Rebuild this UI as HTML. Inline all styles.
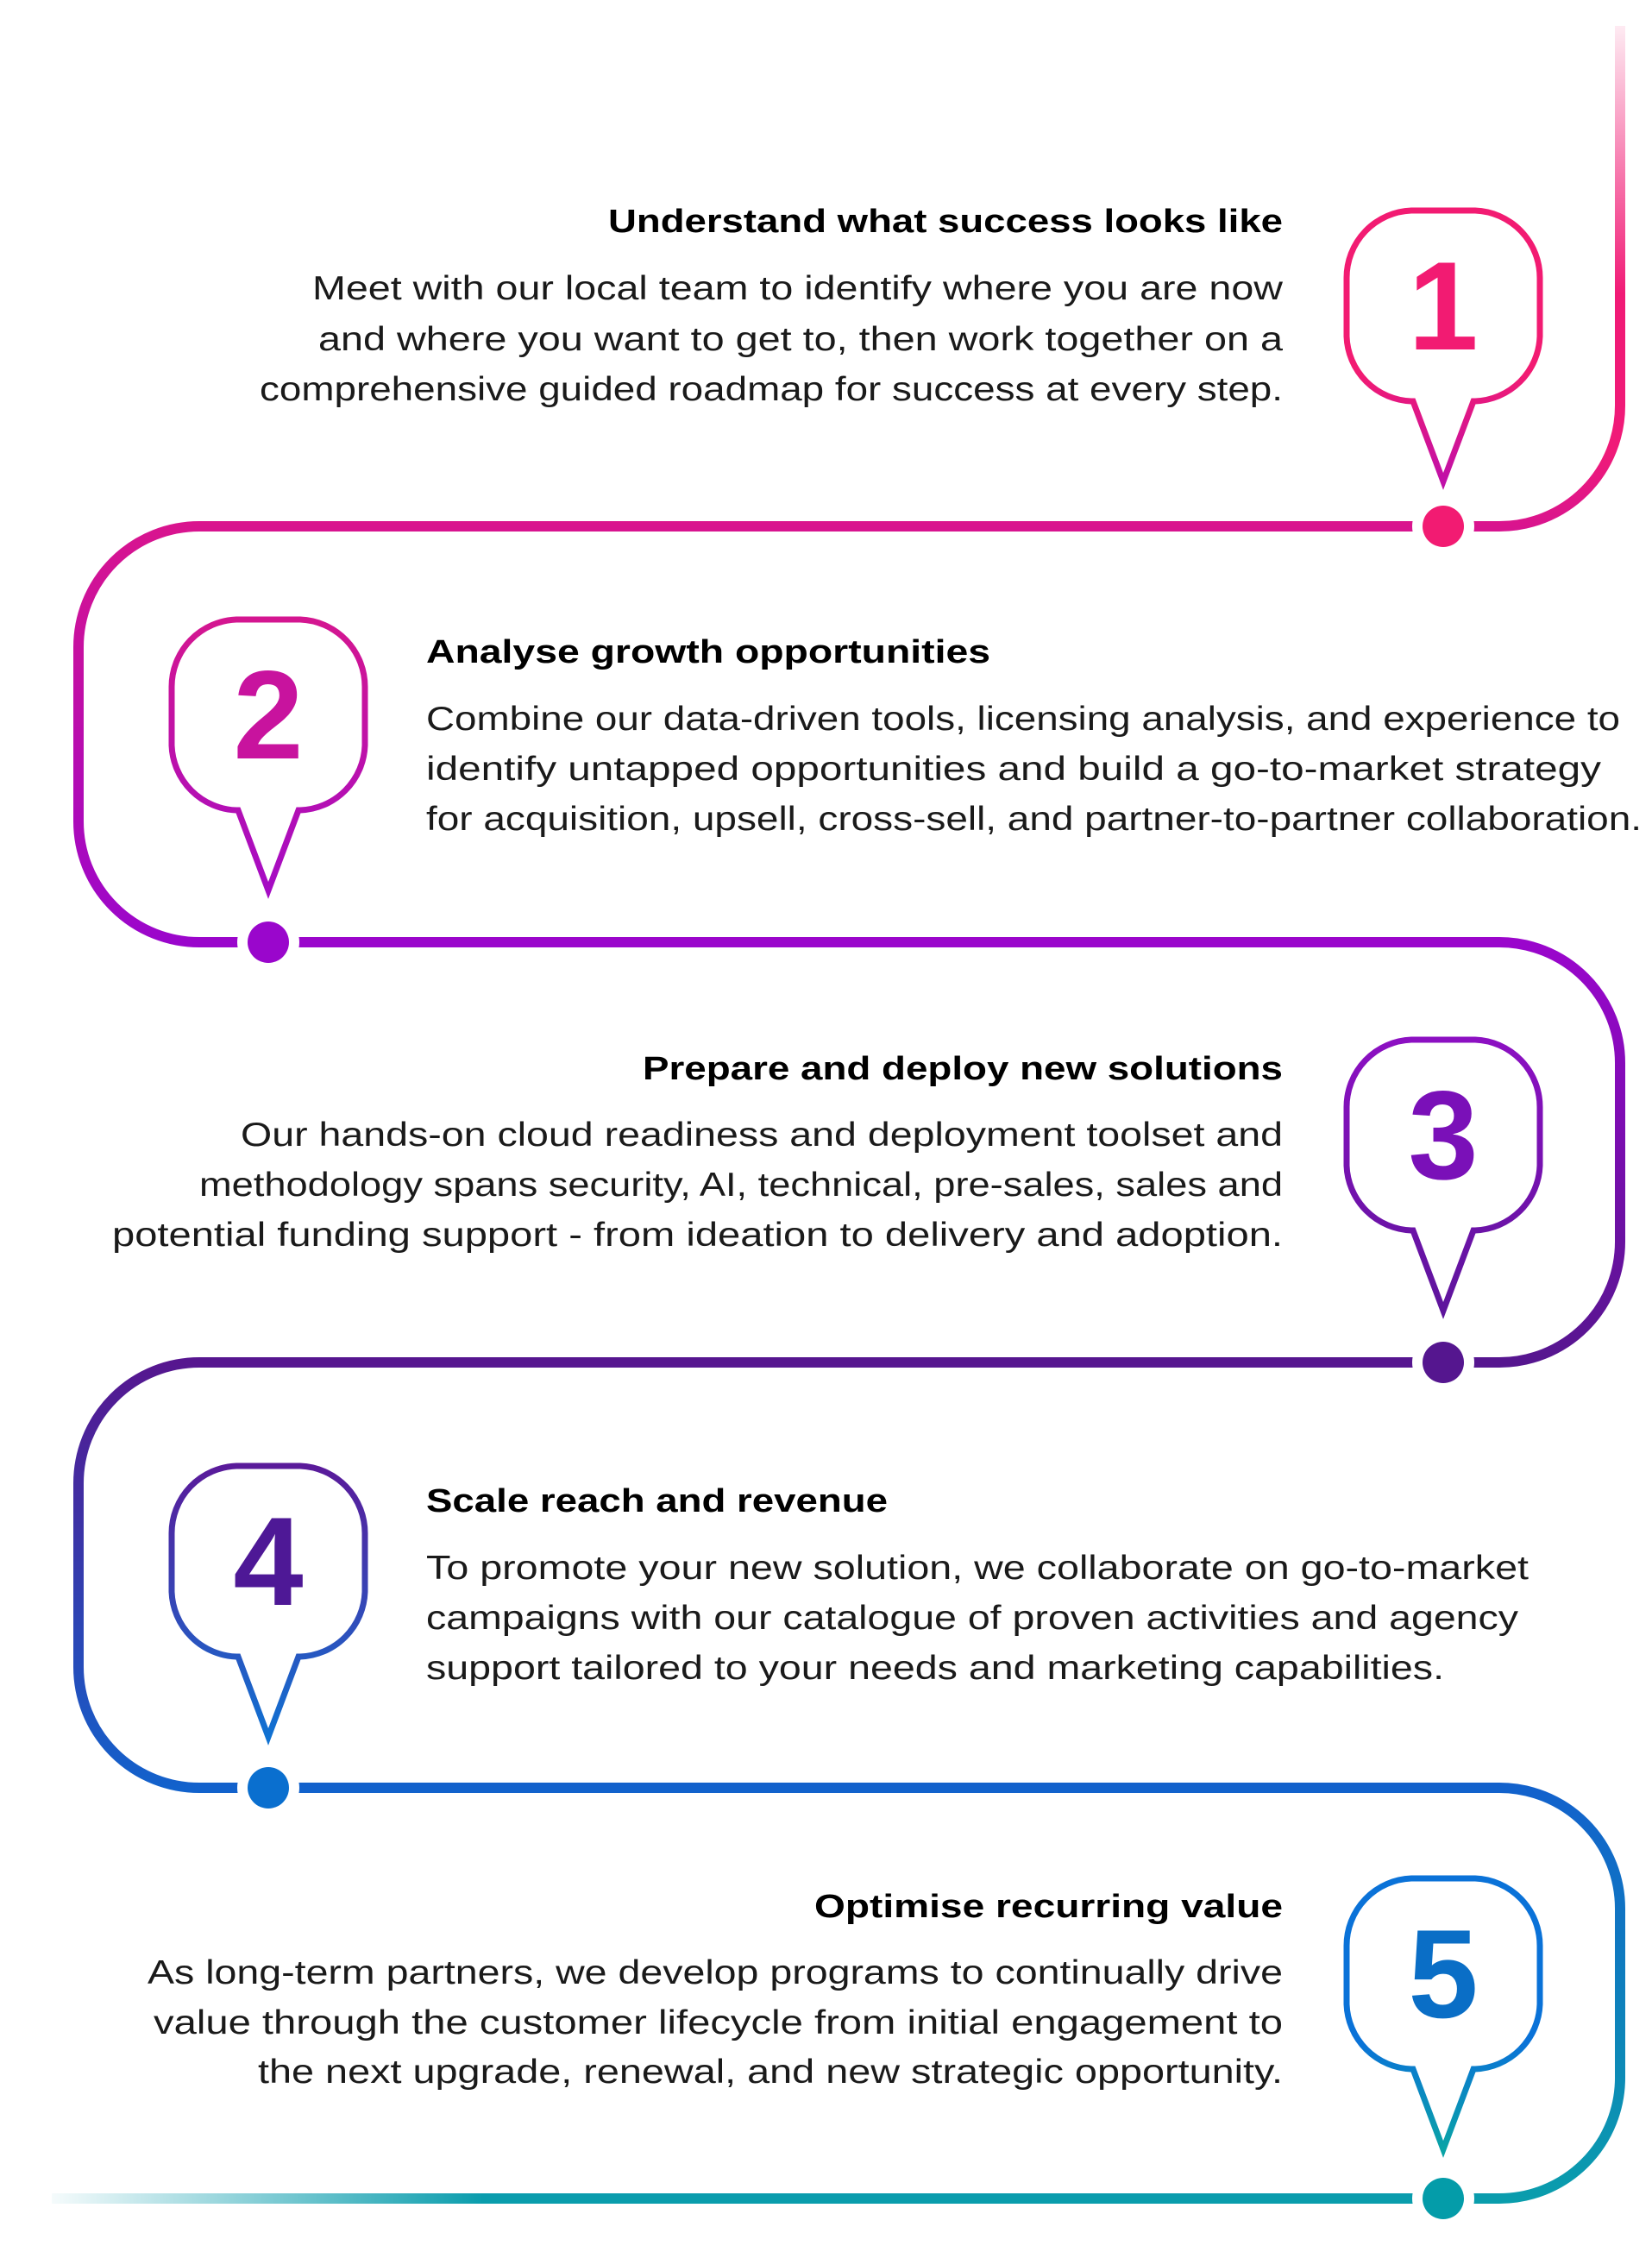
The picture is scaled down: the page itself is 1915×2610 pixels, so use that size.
<!DOCTYPE html>
<html><head><meta charset="utf-8"><style>
html,body{margin:0;padding:0;background:#fff;}
svg{display:block;}
.t{font-family:"Liberation Sans",Arial,sans-serif;font-weight:bold;font-size:38px;fill:#000;}
.b{font-family:"Liberation Sans",Arial,sans-serif;font-size:39px;fill:#1a1a1a;}
.n{font-family:"Liberation Sans",Arial,sans-serif;font-weight:bold;font-size:146px;text-anchor:middle;}
</style></head><body>
<svg width="1915" height="2610" viewBox="0 0 1915 2610" xmlns="http://www.w3.org/2000/svg">
<defs>
<linearGradient id="lg" gradientUnits="userSpaceOnUse" x1="0" y1="0" x2="0" y2="2610">
<stop offset="0" stop-color="#f21b72"/>
<stop offset="0.2" stop-color="#f01a78"/>
<stop offset="0.235" stop-color="#d8148f"/>
<stop offset="0.42" stop-color="#9a06cc"/>
<stop offset="0.605" stop-color="#56168f"/>
<stop offset="0.795" stop-color="#1262cc"/>
<stop offset="0.98" stop-color="#0a9eac"/>
</linearGradient>
<linearGradient id="ft" x1="0" y1="0" x2="0" y2="1"><stop offset="0" stop-color="#fff" stop-opacity="1"/><stop offset="1" stop-color="#fff" stop-opacity="0"/></linearGradient>
<linearGradient id="fl" x1="0" y1="0" x2="1" y2="0"><stop offset="0" stop-color="#fff" stop-opacity="1"/><stop offset="1" stop-color="#fff" stop-opacity="0"/></linearGradient>
<linearGradient id="g1" x1="0" y1="0" x2="0" y2="1"><stop offset="0.6" stop-color="#f21b72"/><stop offset="1" stop-color="#c010a8"/></linearGradient>
<linearGradient id="g2" x1="0" y1="0" x2="0" y2="1"><stop offset="0" stop-color="#d41690"/><stop offset="1" stop-color="#a50cc4"/></linearGradient>
<linearGradient id="g3" x1="0" y1="0" x2="0" y2="1"><stop offset="0" stop-color="#8c10c2"/><stop offset="1" stop-color="#5e149c"/></linearGradient>
<linearGradient id="g4" x1="0" y1="0" x2="0" y2="1"><stop offset="0" stop-color="#5a1a9a"/><stop offset="1" stop-color="#1072d2"/></linearGradient>
<linearGradient id="g5" x1="0" y1="0" x2="0" y2="1"><stop offset="0.6" stop-color="#0a72d8"/><stop offset="1" stop-color="#0aa3a6"/></linearGradient>
</defs>

<path d="M1878 30 V470 A140 140 0 0 1 1738 610 H231 A140 140 0 0 0 91 750 V952 A140 140 0 0 0 231 1092 H1738 A140 140 0 0 1 1878 1232 V1439 A140 140 0 0 1 1738 1579 H231 A140 140 0 0 0 91 1719 V1932 A140 140 0 0 0 231 2072 H1738 A140 140 0 0 1 1878 2212 V2408 A140 140 0 0 1 1738 2548 H60" fill="none" stroke="url(#lg)" stroke-width="12"/>
<rect x="1860" y="0" width="40" height="340" fill="url(#ft)"/>
<rect x="40" y="2530" width="520" height="40" fill="url(#fl)"/>

<!-- dots -->
<g>
<circle cx="1673" cy="610" r="36" fill="#fff"/><circle cx="1673" cy="610" r="24" fill="#f21b72"/>
<circle cx="311" cy="1092" r="36" fill="#fff"/><circle cx="311" cy="1092" r="24" fill="#9a06cc"/>
<circle cx="1673" cy="1579" r="36" fill="#fff"/><circle cx="1673" cy="1579" r="24" fill="#55168f"/>
<circle cx="311" cy="2072" r="36" fill="#fff"/><circle cx="311" cy="2072" r="24" fill="#0a6fcf"/>
<circle cx="1673" cy="2548" r="36" fill="#fff"/><circle cx="1673" cy="2548" r="24" fill="#049ca9"/>
</g>

<!-- bubbles: cx, top T; body bottom T+221, tip T+314 -->
<path d="M1708 465 L1710 465 A78 78 0 0 0 1785 390 V322 A78 78 0 0 0 1710 244 H1636 A78 78 0 0 0 1561 322 V390 A78 78 0 0 0 1636 465 L1638 465 L1673 558 Z" fill="none" stroke="url(#g1)" stroke-width="7"/>
<text class="n" x="1673" y="405" fill="#f21b72">1</text>

<path d="M346 939 L348 939 A78 78 0 0 0 423 864 V796 A78 78 0 0 0 348 718 H274 A78 78 0 0 0 199 796 V864 A78 78 0 0 0 274 939 L276 939 L311 1032 Z" fill="none" stroke="url(#g2)" stroke-width="7"/>
<text class="n" x="311" y="879" fill="#c8139e">2</text>

<path d="M1708 1426 L1710 1426 A78 78 0 0 0 1785 1351 V1283 A78 78 0 0 0 1710 1205 H1636 A78 78 0 0 0 1561 1283 V1351 A78 78 0 0 0 1636 1426 L1638 1426 L1673 1519 Z" fill="none" stroke="url(#g3)" stroke-width="7"/>
<text class="n" x="1673" y="1366" fill="#7a10b8">3</text>

<path d="M346 1920 L348 1920 A78 78 0 0 0 423 1845 V1777 A78 78 0 0 0 348 1699 H274 A78 78 0 0 0 199 1777 V1845 A78 78 0 0 0 274 1920 L276 1920 L311 2013 Z" fill="none" stroke="url(#g4)" stroke-width="7"/>
<text class="n" x="311" y="1860" fill="#4e1896">4</text>

<path d="M1708 2398 L1710 2398 A78 78 0 0 0 1785 2323 V2255 A78 78 0 0 0 1710 2177 H1636 A78 78 0 0 0 1561 2255 V2323 A78 78 0 0 0 1636 2398 L1638 2398 L1673 2491 Z" fill="none" stroke="url(#g5)" stroke-width="7"/>
<text class="n" x="1673" y="2338" fill="#0a6ec6">5</text>

<!-- texts -->
<text class="t" x="705" y="269" textLength="782" lengthAdjust="spacingAndGlyphs">Understand what success looks like</text>
<text class="b" x="362" y="347" textLength="1125" lengthAdjust="spacingAndGlyphs">Meet with our local team to identify where you are now</text>
<text class="b" x="369" y="406" textLength="1118" lengthAdjust="spacingAndGlyphs">and where you want to get to, then work together on a</text>
<text class="b" x="301" y="464" textLength="1186" lengthAdjust="spacingAndGlyphs">comprehensive guided roadmap for success at every step.</text>

<text class="t" x="494" y="768" textLength="654" lengthAdjust="spacingAndGlyphs">Analyse growth opportunities</text>
<text class="b" x="494" y="846" textLength="1384" lengthAdjust="spacingAndGlyphs">Combine our data-driven tools, licensing analysis, and experience to</text>
<text class="b" x="494" y="904" textLength="1362" lengthAdjust="spacingAndGlyphs">identify untapped opportunities and build a go-to-market strategy</text>
<text class="b" x="494" y="962" textLength="1409" lengthAdjust="spacingAndGlyphs">for acquisition, upsell, cross-sell, and partner-to-partner collaboration.</text>

<text class="t" x="745" y="1251" textLength="742" lengthAdjust="spacingAndGlyphs">Prepare and deploy new solutions</text>
<text class="b" x="279" y="1328" textLength="1208" lengthAdjust="spacingAndGlyphs">Our hands-on cloud readiness and deployment toolset and</text>
<text class="b" x="231" y="1386" textLength="1256" lengthAdjust="spacingAndGlyphs">methodology spans security, AI, technical, pre-sales, sales and</text>
<text class="b" x="130" y="1444" textLength="1357" lengthAdjust="spacingAndGlyphs">potential funding support - from ideation to delivery and adoption.</text>

<text class="t" x="494" y="1752" textLength="535" lengthAdjust="spacingAndGlyphs">Scale reach and revenue</text>
<text class="b" x="494" y="1830" textLength="1278" lengthAdjust="spacingAndGlyphs">To promote your new solution, we collaborate on go-to-market</text>
<text class="b" x="494" y="1888" textLength="1266" lengthAdjust="spacingAndGlyphs">campaigns with our catalogue of proven activities and agency</text>
<text class="b" x="494" y="1946" textLength="1180" lengthAdjust="spacingAndGlyphs">support tailored to your needs and marketing capabilities.</text>

<text class="t" x="944" y="2222" textLength="543" lengthAdjust="spacingAndGlyphs">Optimise recurring value</text>
<text class="b" x="171" y="2299" textLength="1316" lengthAdjust="spacingAndGlyphs">As long-term partners, we develop programs to continually drive</text>
<text class="b" x="178" y="2357" textLength="1309" lengthAdjust="spacingAndGlyphs">value through the customer lifecycle from initial engagement to</text>
<text class="b" x="299" y="2414" textLength="1188" lengthAdjust="spacingAndGlyphs">the next upgrade, renewal, and new strategic opportunity.</text>
</svg>
</body></html>
